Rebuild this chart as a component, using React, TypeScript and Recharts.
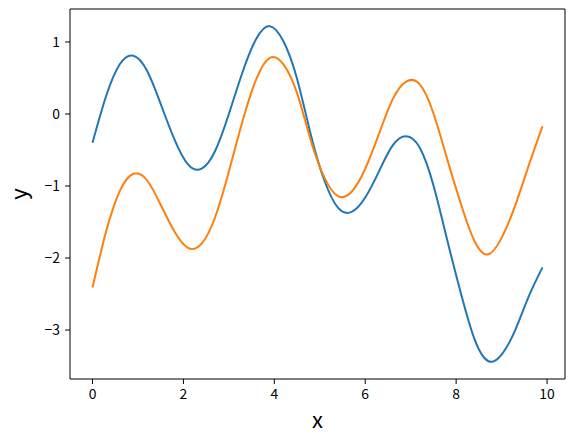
import { LineChart, Line, XAxis, YAxis, Label, ReferenceLine } from "recharts";

const xValues = [
    0, 0.3, 0.6, 0.9, 1.2, 1.5, 1.8, 2.1, 2.4, 2.7, 3.0, 3.3, 3.6, 3.9, 4.2, 4.5, 4.8,
    5.1, 5.4, 5.7, 6.0, 6.3, 6.6, 6.9, 7.2, 7.5, 7.8, 8.1, 8.4, 8.7, 9.0, 9.3, 9.6, 9.9,
];
const blueValues = [
    -0.4, 0.25, 0.69, 0.81, 0.6, 0.14, -0.35, -0.7, -0.76, -0.51, 0.0, 0.58, 1.04, 1.22, 1.01, 0.49, -0.28,
    -0.92, -1.3, -1.36, -1.16, -0.8, -0.44, -0.31, -0.47, -0.99, -1.74, -2.48, -3.12, -3.43, -3.34, -3.0, -2.53, -2.13,
];
const orangeValues = [
    -2.41, -1.63, -1.07, -0.83, -0.92, -1.26, -1.63, -1.86, -1.8, -1.43, -0.8, -0.1, 0.48, 0.78, 0.69, 0.29, -0.36,
    -0.88, -1.14, -1.08, -0.76, -0.28, 0.2, 0.45, 0.41, 0.01, -0.62, -1.24, -1.76, -1.95, -1.72, -1.27, -0.71, -0.17,
];
const xTicks = [0, 2, 4, 6, 8, 10];
const yTicks = [-3, -2, -1, 0, 1];

const data = xValues.map((x, i) => ({ x, blue: blueValues[i], orange: orangeValues[i] }));

const X_DOMAIN = [-0.495, 10.395];
const Y_DOMAIN = [-3.68, 1.458];
const FONT = "'Noto Sans CJK JP', 'Noto Sans', sans-serif";
const fmt = (v: number) => (v < 0 ? "\u2212" + Math.abs(v) : String(v));
const tickStyle = { fontSize: 13.9, fill: "#000", fontFamily: FONT };

export default function App() {
    return (
        <div style={{ position: "absolute", left: 0, top: 0, width: 575, height: 443, background: "#fff" }}>
            <LineChart width={575} height={443} data={data} margin={{ top: 9, right: 10, bottom: 0, left: 0 }}>
                <XAxis
                    dataKey="x"
                    type="number"
                    domain={X_DOMAIN}
                    ticks={xTicks}
                    allowDataOverflow
                    height={64}
                    tickSize={5}
                    tickMargin={5}
                    tick={tickStyle}
                    stroke="#000"
                    tickFormatter={fmt}
                >
                    <Label
                        content={({ viewBox }: any) => (
                            <text
                                x={viewBox.x + viewBox.width / 2}
                                y={viewBox.y + 49}
                                textAnchor="middle"
                                fontSize={22}
                                fontFamily={FONT}
                                fill="#000"
                            >
                                x
                            </text>
                        )}
                    />
                </XAxis>
                <YAxis
                    type="number"
                    domain={Y_DOMAIN}
                    ticks={yTicks}
                    allowDataOverflow
                    width={70}
                    tickSize={5}
                    tickMargin={5}
                    tick={tickStyle}
                    stroke="#000"
                    tickFormatter={fmt}
                >
                    <Label
                        content={({ viewBox }: any) => {
                            const cx = 27;
                            const cy = viewBox.y + viewBox.height / 2;
                            return (
                                <text
                                    x={cx}
                                    y={cy}
                                    transform={`rotate(-90, ${cx}, ${cy})`}
                                    textAnchor="middle"
                                    fontSize={22}
                                    fontFamily={FONT}
                                    fill="#000"
                                >
                                    y
                                </text>
                            );
                        }}
                    />
                </YAxis>
                {/* top and right spines */}
                <ReferenceLine y={Y_DOMAIN[1]} stroke="#000" strokeWidth={1} ifOverflow="extendDomain" />
                <ReferenceLine x={X_DOMAIN[1]} stroke="#000" strokeWidth={1} ifOverflow="extendDomain" />
                <Line dataKey="blue" type="natural" stroke="#1f77b4" strokeWidth={2} dot={false} isAnimationActive={false} />
                <Line dataKey="orange" type="natural" stroke="#ff7f0e" strokeWidth={2} dot={false} isAnimationActive={false} />
            </LineChart>
        </div>
    );
}
